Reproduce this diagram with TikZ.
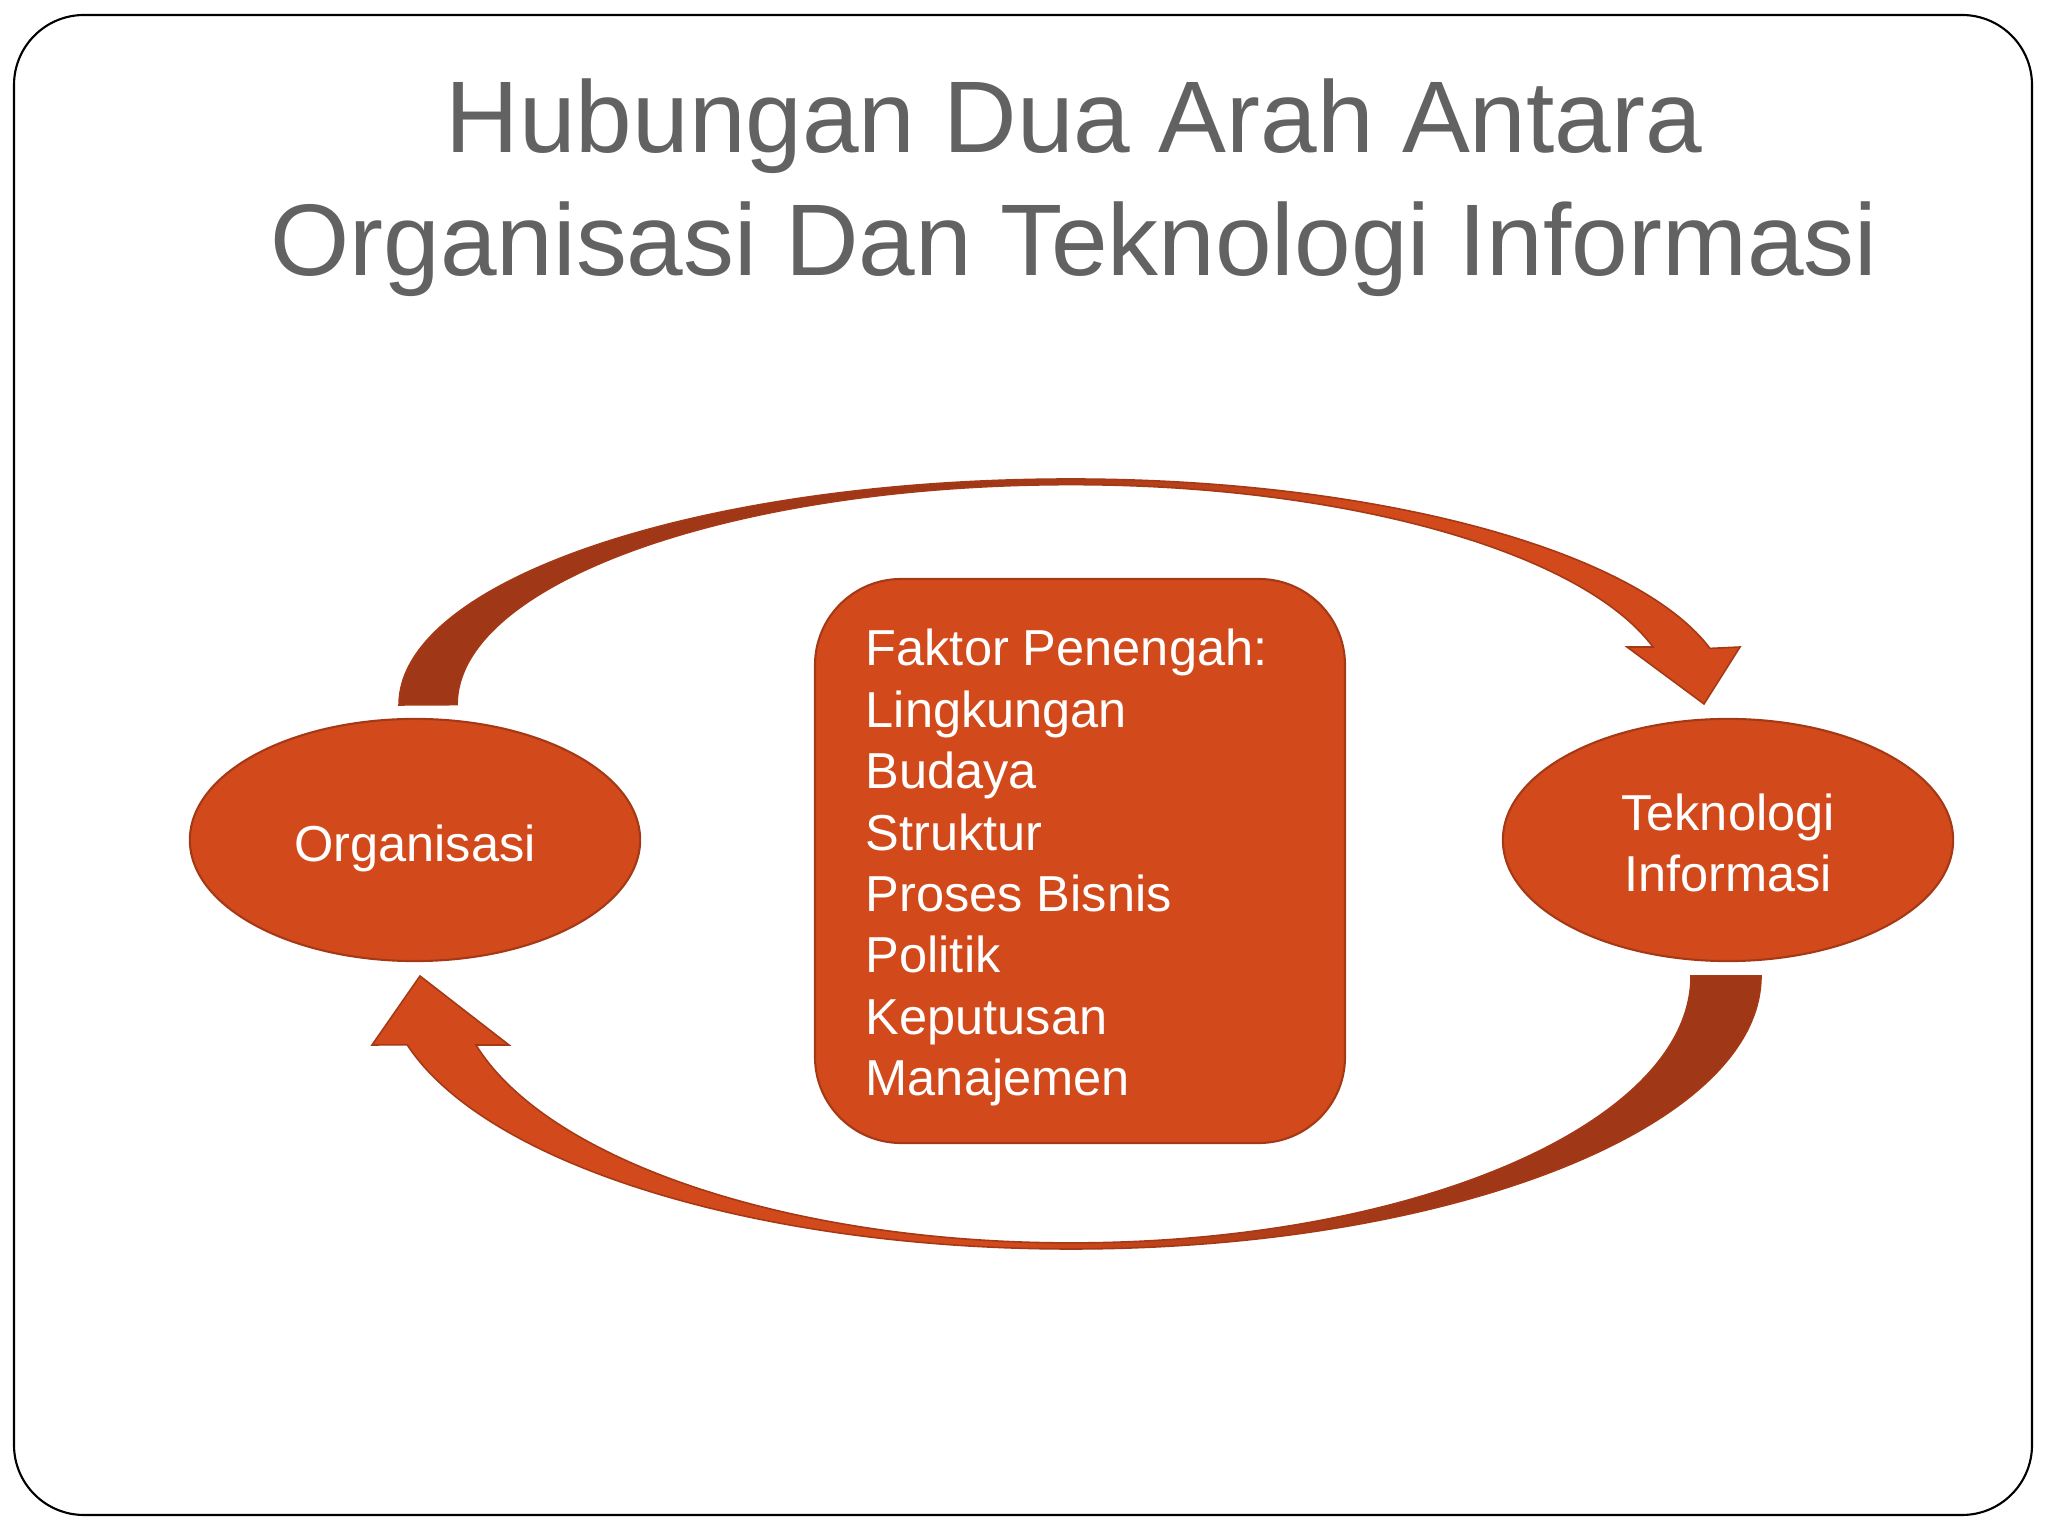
\documentclass[tikz,border=0pt]{standalone}
\usepackage{fontspec}
\setmainfont{Liberation Sans}
\usetikzlibrary{shapes.geometric}
\definecolor{arrorange}{RGB}{210,74,27}
\definecolor{arrdark}{RGB}{160,56,24}
\definecolor{edgered}{RGB}{165,57,22}
\definecolor{titlegray}{RGB}{98,98,98}
\pgfdeclarehorizontalshading{topshade}{100bp}{color(0bp)=(arrdark); color(47bp)=(arrdark); color(61bp)=(arrorange); color(100bp)=(arrorange)}
\pgfdeclarehorizontalshading{botshade}{100bp}{color(0bp)=(arrorange); color(48bp)=(arrorange); color(62bp)=(arrdark); color(100bp)=(arrdark)}
\tikzset{
  titletext/.style={anchor=base, text=titlegray, inner sep=0pt, font=\fontsize{28.95pt}{34pt}\selectfont},
  bodytext/.style={text=white, inner sep=0pt, font=\fontsize{14.37pt}{17.47pt}\selectfont},
  orgshape/.style={ellipse, draw=edgered, line width=0.6pt, fill=arrorange, minimum width=4.5cm, minimum height=2.42cm, inner sep=0pt},
  factorbox/.style={draw=edgered, line width=0.6pt, fill=arrorange, rounded corners=0.86cm},
  curvedarrow/.style={draw=edgered, line width=0.45pt},
}
\begin{document}
\begin{tikzpicture}[x=0.01cm,y=0.01cm]
\useasboundingbox (0,0) rectangle (2048,1536);
% slide frame
\draw[line width=0.6pt, rounded corners=0.7cm] (14,21) rectangle (2032,1521);
% title
\node[titletext] (title1) at (1074,1383) {Hubungan Dua Arah Antara};
\node[titletext] (title2) at (1074,1260) {Organisasi Dan Teknologi Informasi};
% ellipses
\node[orgshape] (org) at (415,696) {};
\node[orgshape] (ti) at (1728,696) {};
\node[bodytext, anchor=base] (orgtext) at (415,674) {Organisasi};
\node[bodytext, anchor=base] (titext1) at (1728,705) {Teknologi};
\node[bodytext, anchor=base] (titext2) at (1728,644) {Informasi};
% central box
\draw[factorbox] (815,393) rectangle (1345,957);
\foreach \t [count=\i from 0] in {Faktor Penengah:,Lingkungan,Budaya,Struktur,Proses Bisnis,Politik,Keputusan,Manajemen}
  \node[bodytext, anchor=base west] (f\i) at (865,870-61.4*\i) {\t};
% top curved arrow: Organisasi -> Teknologi Informasi
\coordinate (ttailout) at (399,831);
\coordinate (tnotchin) at (1653,889);
\path[curvedarrow, shading=topshade]
  (ttailout) arc[start angle=180, end angle=90, x radius=672, y radius=226]
  arc[start angle=90, end angle=14.5, x radius=660, y radius=226]
  -- (1740,889) -- (1704,832) -- (1627,889) -- (tnotchin)
  arc[start angle=15.2, end angle=90, x radius=603, y radius=220]
  arc[start angle=90, end angle=180, x radius=614, y radius=220]
  -- cycle;
% bottom curved arrow: Teknologi Informasi -> Organisasi
\coordinate (btailout) at (1761,560);
\coordinate (bnotchin) at (476,491);
\path[curvedarrow, shading=botshade]
  (btailout) arc[start angle=0, end angle=-90, x radius=690, y radius=273]
  arc[start angle=270, end angle=194.6, x radius=686, y radius=273]
  -- (372,491) -- (420,560) -- (509,491) -- (bnotchin)
  arc[start angle=195, end angle=270, x radius=616, y radius=267]
  arc[start angle=270, end angle=360, x radius=620, y radius=267]
  -- cycle;
\end{tikzpicture}
\end{document}
